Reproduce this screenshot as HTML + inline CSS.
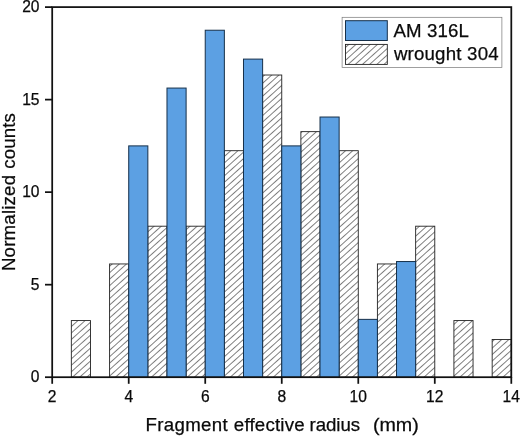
<!DOCTYPE html>
<html><head><meta charset="utf-8"><title>Histogram</title>
<style>
html,body{margin:0;padding:0;background:#fff;}
body{width:520px;height:436px;overflow:hidden;}
svg{display:block;}
text{font-family:"Liberation Sans",Arial,sans-serif;fill:#0a0a0a;stroke:#0a0a0a;stroke-width:0.25px;}
.tk{font-size:15.6px;}
.lb{font-size:18.67px;}
</style></head><body>
<svg width="520" height="436" viewBox="0 0 520 436">
<defs>
<pattern id="h" patternUnits="userSpaceOnUse" width="4.8" height="4.8" patternTransform="rotate(-42)">
<rect width="4.8" height="4.8" fill="#fff"/>
<line x1="0" y1="2.4" x2="4.8" y2="2.4" stroke="#4a4a4a" stroke-width="0.7"/>
</pattern>
</defs>
<rect width="520" height="436" fill="#fff"/>

<rect x="71.33" y="320.57" width="19.13" height="56.63" fill="url(#h)" stroke="#222" stroke-width="0.9"/>
<rect x="109.59" y="263.95" width="19.13" height="113.25" fill="url(#h)" stroke="#222" stroke-width="0.9"/>
<rect x="147.85" y="226.20" width="19.13" height="151.00" fill="url(#h)" stroke="#222" stroke-width="0.9"/>
<rect x="186.10" y="226.20" width="19.13" height="151.00" fill="url(#h)" stroke="#222" stroke-width="0.9"/>
<rect x="224.36" y="150.70" width="19.13" height="226.50" fill="url(#h)" stroke="#222" stroke-width="0.9"/>
<rect x="262.62" y="75.01" width="19.13" height="302.19" fill="url(#h)" stroke="#222" stroke-width="0.9"/>
<rect x="300.88" y="131.64" width="19.13" height="245.56" fill="url(#h)" stroke="#222" stroke-width="0.9"/>
<rect x="339.14" y="150.70" width="19.13" height="226.50" fill="url(#h)" stroke="#222" stroke-width="0.9"/>
<rect x="377.40" y="263.95" width="19.13" height="113.25" fill="url(#h)" stroke="#222" stroke-width="0.9"/>
<rect x="415.65" y="226.20" width="19.13" height="151.00" fill="url(#h)" stroke="#222" stroke-width="0.9"/>
<rect x="453.91" y="320.57" width="19.13" height="56.63" fill="url(#h)" stroke="#222" stroke-width="0.9"/>
<rect x="492.17" y="339.45" width="19.13" height="37.75" fill="url(#h)" stroke="#222" stroke-width="0.9"/>
<rect x="128.72" y="145.89" width="19.13" height="231.31" fill="#5ca0e3" stroke="#16304a" stroke-width="1"/>
<rect x="166.98" y="88.06" width="19.13" height="289.14" fill="#5ca0e3" stroke="#16304a" stroke-width="1"/>
<rect x="205.23" y="30.23" width="19.13" height="346.97" fill="#5ca0e3" stroke="#16304a" stroke-width="1"/>
<rect x="243.49" y="59.10" width="19.13" height="318.10" fill="#5ca0e3" stroke="#16304a" stroke-width="1"/>
<rect x="281.75" y="145.89" width="19.13" height="231.31" fill="#5ca0e3" stroke="#16304a" stroke-width="1"/>
<rect x="320.01" y="117.02" width="19.13" height="260.18" fill="#5ca0e3" stroke="#16304a" stroke-width="1"/>
<rect x="358.27" y="319.37" width="19.13" height="57.83" fill="#5ca0e3" stroke="#16304a" stroke-width="1"/>
<rect x="396.52" y="261.54" width="19.13" height="115.66" fill="#5ca0e3" stroke="#16304a" stroke-width="1"/>
<rect x="52.2" y="7.1" width="459.10" height="370.10" fill="none" stroke="#111" stroke-width="1.75"/>
<line x1="45" y1="377.20" x2="52.2" y2="377.20" stroke="#111" stroke-width="1.75"/>
<text class="tk" x="39.5" y="382.20" text-anchor="end">0</text>
<line x1="45" y1="284.68" x2="52.2" y2="284.68" stroke="#111" stroke-width="1.75"/>
<text class="tk" x="39.5" y="289.68" text-anchor="end">5</text>
<line x1="45" y1="192.15" x2="52.2" y2="192.15" stroke="#111" stroke-width="1.75"/>
<text class="tk" x="39.5" y="197.15" text-anchor="end">10</text>
<line x1="45" y1="99.62" x2="52.2" y2="99.62" stroke="#111" stroke-width="1.75"/>
<text class="tk" x="39.5" y="104.62" text-anchor="end">15</text>
<line x1="45" y1="7.10" x2="52.2" y2="7.10" stroke="#111" stroke-width="1.75"/>
<text class="tk" x="39.5" y="12.10" text-anchor="end">20</text>
<line x1="52.20" y1="377.2" x2="52.20" y2="383.8" stroke="#111" stroke-width="1.75"/>
<text class="tk" x="52.20" y="401.8" text-anchor="middle">2</text>
<line x1="128.72" y1="377.2" x2="128.72" y2="383.8" stroke="#111" stroke-width="1.75"/>
<text class="tk" x="128.72" y="401.8" text-anchor="middle">4</text>
<line x1="205.23" y1="377.2" x2="205.23" y2="383.8" stroke="#111" stroke-width="1.75"/>
<text class="tk" x="205.23" y="401.8" text-anchor="middle">6</text>
<line x1="281.75" y1="377.2" x2="281.75" y2="383.8" stroke="#111" stroke-width="1.75"/>
<text class="tk" x="281.75" y="401.8" text-anchor="middle">8</text>
<line x1="358.27" y1="377.2" x2="358.27" y2="383.8" stroke="#111" stroke-width="1.75"/>
<text class="tk" x="358.27" y="401.8" text-anchor="middle">10</text>
<line x1="434.78" y1="377.2" x2="434.78" y2="383.8" stroke="#111" stroke-width="1.75"/>
<text class="tk" x="434.78" y="401.8" text-anchor="middle">12</text>
<line x1="511.30" y1="377.2" x2="511.30" y2="383.8" stroke="#111" stroke-width="1.75"/>
<text class="tk" x="511.30" y="401.8" text-anchor="middle">14</text>
<text class="lb" x="145.61" y="430.6" style="letter-spacing:0.318px" >Fragment</text>
<text class="lb" x="233.84" y="430.6" style="letter-spacing:0.203px" >effective</text>
<text class="lb" x="309.62" y="430.6" style="letter-spacing:-0.082px" >radius</text>
<text class="lb" transform="translate(372.94,430.6) scale(1.054,1)">(mm)</text>
<text class="lb" transform="translate(14.9,271.04) rotate(-90)" style="letter-spacing:0.189px">Normalized</text>
<text class="lb" transform="translate(14.9,168.86) rotate(-90)" style="letter-spacing:0.164px">counts</text>
<rect x="342.1" y="17.3" width="159.8" height="50.1" fill="#fff" stroke="#777" stroke-width="0.7"/>
<rect x="345.5" y="20.7" width="41.8" height="19.8" fill="#5ca0e3" stroke="#16304a" stroke-width="1"/>
<rect x="345.5" y="44.4" width="41.8" height="20" fill="url(#h)" stroke="#222" stroke-width="0.9"/>
<text class="lb" x="393.4" y="37.0" style="letter-spacing:0.134px" >AM 316L</text>
<text class="lb" x="393.89" y="60.0" style="letter-spacing:0.203px" >wrought 304</text>
</svg></body></html>
